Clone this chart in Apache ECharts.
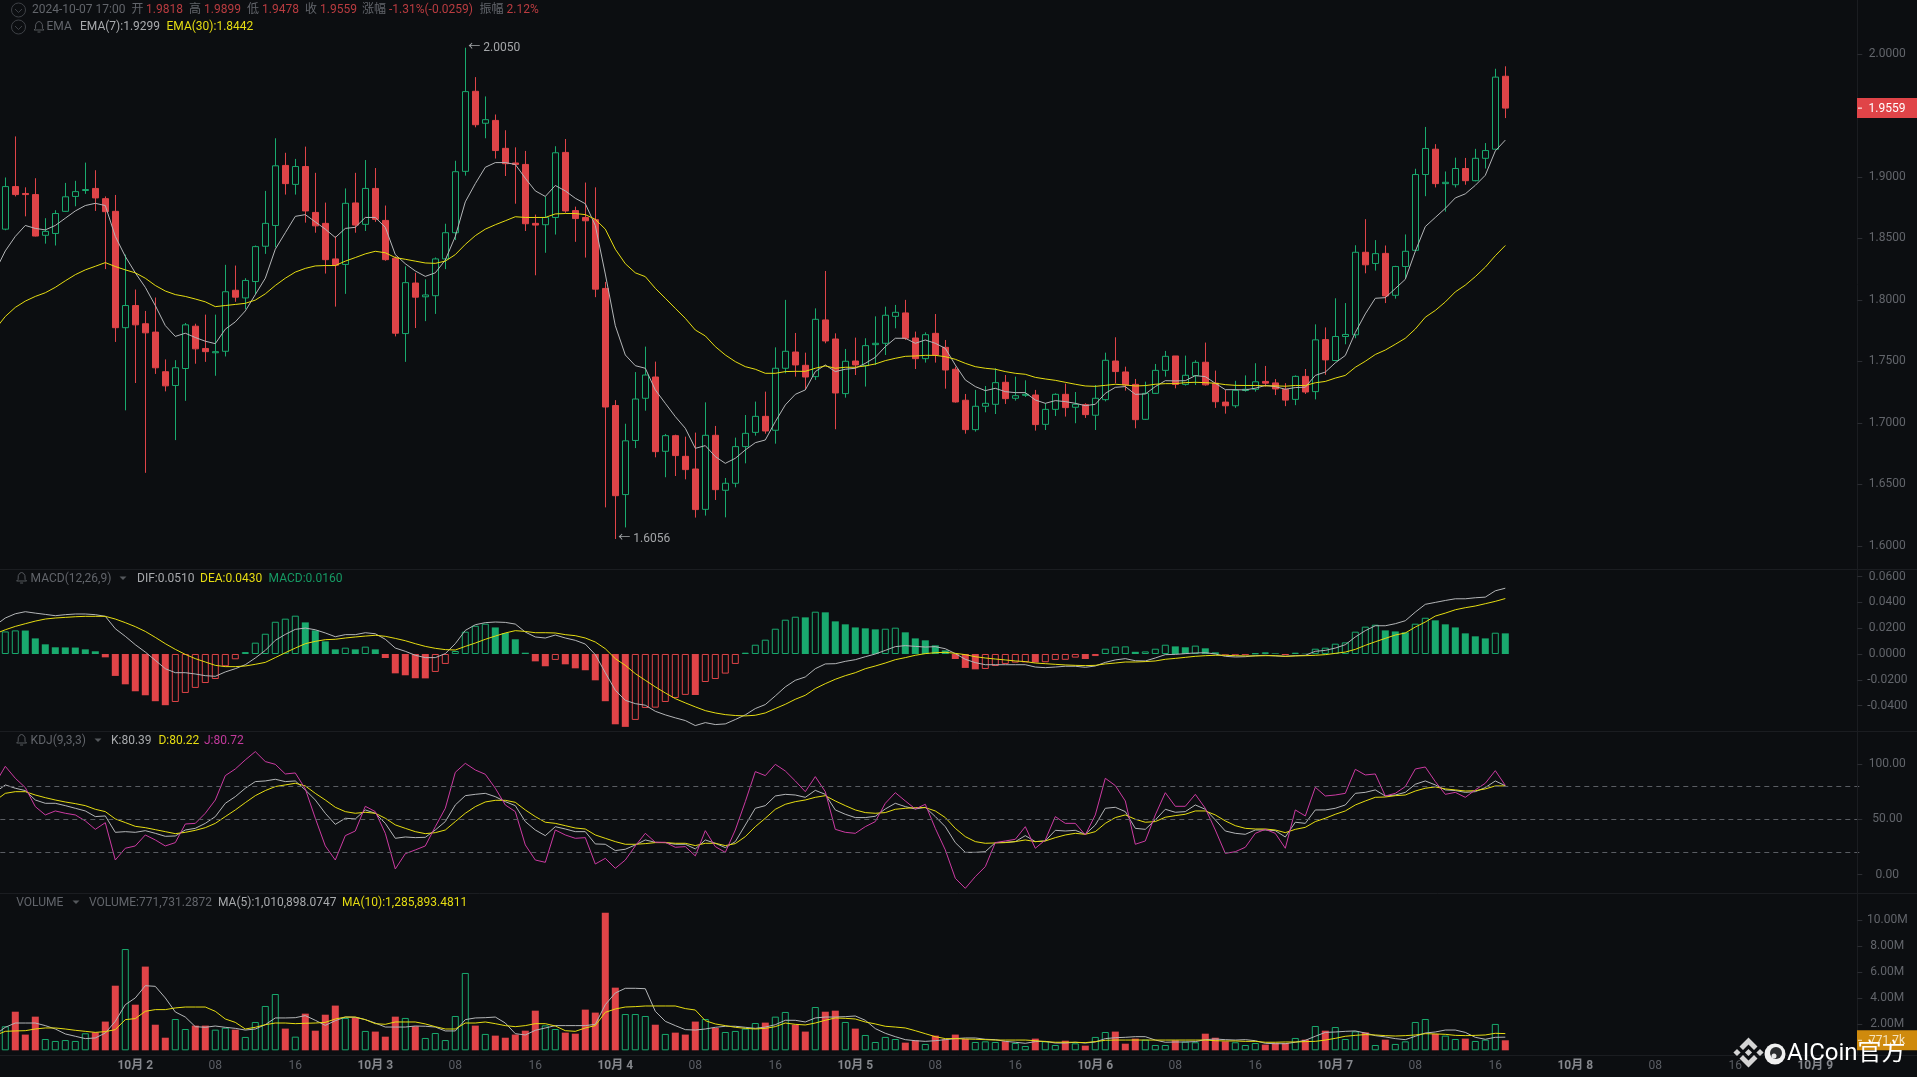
<!DOCTYPE html>
<html>
	<head>
		<meta charset="utf-8">
		<title>chart</title>
		<script src="https://cdn.jsdelivr.net/npm/echarts@6/dist/echarts.min.js"></script>
		<style>
			html,body{margin:0;padding:0;background:#0c0e11;}
			#x{width:1917px;height:1077px;}
		</style>
	</head>
	<body>
		<div id="x"></div>
	</body>

	<script type="text/javascript">
		// open, close, low, high
		var ohlc=[
			[1.8575,1.8921,1.8566,1.8995],[1.8921,1.8856,1.8841,1.9329],[1.8865,1.8856,1.8679,1.8915],[1.8856,1.8519,1.8516,1.8989],[1.8525,1.8557,1.8457,1.8664],
			[1.8540,1.8702,1.8442,1.8729],[1.8720,1.8838,1.8717,1.8951],[1.8841,1.8880,1.8761,1.8968],[1.8889,1.8897,1.8862,1.9116],[1.8906,1.8829,1.8723,1.9054],
			[1.8823,1.8717,1.8250,1.8841],[1.8720,1.7774,1.7658,1.8853],[1.7774,1.7954,1.7102,1.8368],[1.7954,1.7797,1.7324,1.8084],[1.7806,1.7732,1.6594,1.7910],
			[1.7738,1.7448,1.7398,1.8019],[1.7416,1.7301,1.7256,1.7516],[1.7304,1.7448,1.6860,1.7510],[1.7442,1.7797,1.7179,1.7812],[1.7786,1.7602,1.7481,1.7806],
			[1.7605,1.7579,1.7496,1.7880],[1.7570,1.7579,1.7383,1.7880],[1.7582,1.8066,1.7540,1.8285],[1.8078,1.8022,1.7984,1.8279],[1.8016,1.8158,1.7925,1.8176],
			[1.8149,1.8433,1.8043,1.8442],[1.8436,1.8622,1.8374,1.8886],[1.8605,1.9090,1.8427,1.9314],[1.9093,1.8945,1.8856,1.9196],[1.8939,1.9084,1.8856,1.9146],
			[1.9084,1.8723,1.8628,1.9246],[1.8711,1.8602,1.8546,1.9033],[1.8622,1.8327,1.8214,1.8791],[1.8333,1.8282,1.7945,1.8516],[1.8288,1.8785,1.8049,1.8906],
			[1.8788,1.8608,1.8546,1.9033],[1.8614,1.8906,1.8560,1.9137],[1.8906,1.8655,1.8634,1.9072],[1.8646,1.8327,1.8318,1.8767],[1.8339,1.7729,1.7703,1.8353],
			[1.7726,1.8140,1.7496,1.8273],[1.8137,1.8022,1.7771,1.8220],[1.8025,1.8040,1.7827,1.8167],[1.8034,1.8333,1.7886,1.8345],[1.8333,1.8546,1.8250,1.8619],
			[1.8546,1.9042,1.8486,1.9131],[1.9045,1.9693,1.9010,2.0050],[1.9696,1.9424,1.9403,1.9811],[1.9436,1.9465,1.9314,1.9654],[1.9459,1.9214,1.9149,1.9507],
			[1.9232,1.9107,1.9007,1.9379],[1.9113,1.9101,1.8782,1.9240],[1.9101,1.8619,1.8560,1.9211],[1.8622,1.8608,1.8200,1.8693],[1.8611,1.8670,1.8383,1.8841],
			[1.8670,1.9196,1.8531,1.9249],[1.9199,1.8723,1.8708,1.9308],[1.8726,1.8661,1.8472,1.8758],[1.8670,1.8643,1.8344,1.8954],[1.8652,1.8087,1.8022,1.8915],
			[1.8093,1.7129,1.6313,1.8146],[1.7141,1.6408,1.6056,1.7185],[1.6417,1.6854,1.6150,1.6993],[1.6857,1.7194,1.6795,1.7413],[1.7200,1.7389,1.7099,1.7620],
			[1.7373,1.6766,1.6720,1.7498],[1.6769,1.6896,1.6558,1.6910],[1.6896,1.6734,1.6568,1.6904],[1.6728,1.6620,1.6541,1.6888],[1.6625,1.6295,1.6230,1.6921],
			[1.6297,1.6899,1.6246,1.7167],[1.6899,1.6457,1.6373,1.6975],[1.6452,1.6509,1.6232,1.6552],[1.6509,1.6807,1.6476,1.6880],[1.6807,1.6915,1.6671,1.7064],
			[1.6923,1.7053,1.6896,1.7173],[1.7053,1.6934,1.6912,1.7254],[1.6940,1.7444,1.6831,1.7614],[1.7444,1.7582,1.7403,1.8000],[1.7576,1.7471,1.7376,1.7731],
			[1.7468,1.7373,1.7268,1.7571],[1.7376,1.7842,1.7349,1.7931],[1.7837,1.7666,1.7647,1.8235],[1.7682,1.7243,1.6948,1.7728],[1.7238,1.7501,1.7205,1.7601],
			[1.7503,1.7471,1.7389,1.7693],[1.7465,1.7628,1.7295,1.7688],[1.7636,1.7647,1.7471,1.7866],[1.7647,1.7875,1.7552,1.7945],[1.7866,1.7899,1.7769,1.7959],
			[1.7894,1.7688,1.7674,1.8000],[1.7690,1.7522,1.7438,1.7742],[1.7522,1.7717,1.7490,1.7736],[1.7728,1.7552,1.7490,1.7885],[1.7614,1.7430,1.7278,1.7674],
			[1.7436,1.7170,1.7165,1.7457],[1.7184,1.6945,1.6912,1.7235],[1.6945,1.7135,1.6929,1.7268],[1.7135,1.7159,1.7086,1.7300],[1.7151,1.7327,1.7072,1.7444],
			[1.7330,1.7197,1.7154,1.7389],[1.7200,1.7221,1.7181,1.7376],[1.7224,1.7232,1.7211,1.7346],[1.7227,1.6986,1.6937,1.7268],[1.6988,1.7110,1.6942,1.7159],
			[1.7110,1.7232,1.7056,1.7240],[1.7232,1.7124,1.7051,1.7319],[1.7127,1.7151,1.6997,1.7251],[1.7148,1.7067,1.7040,1.7159],[1.7062,1.7200,1.6942,1.7308],
			[1.7189,1.7509,1.7175,1.7571],[1.7503,1.7417,1.7322,1.7696],[1.7414,1.7308,1.7262,1.7457],[1.7313,1.7026,1.6956,1.7357],[1.7029,1.7240,1.7024,1.7335],
			[1.7240,1.7427,1.7235,1.7479],[1.7427,1.7541,1.7376,1.7585],[1.7544,1.7313,1.7281,1.7544],[1.7313,1.7387,1.7303,1.7547],[1.7384,1.7492,1.7308,1.7509],
			[1.7493,1.7309,1.7303,1.7653],[1.7323,1.7172,1.7122,1.7425],[1.7169,1.7139,1.7075,1.7267],[1.7139,1.7265,1.7122,1.7342],[1.7263,1.7273,1.7254,1.7386],
			[1.7273,1.7334,1.7254,1.7485],[1.7337,1.7323,1.7295,1.7463],[1.7325,1.7276,1.7226,1.7356],[1.7273,1.7185,1.7136,1.7323],[1.7191,1.7378,1.7144,1.7386],
			[1.7378,1.7251,1.7235,1.7438],[1.7254,1.7675,1.7191,1.7801],[1.7677,1.7512,1.7391,1.7776],[1.7507,1.7702,1.7501,1.8013],[1.7702,1.7719,1.7639,1.7974],
			[1.7716,1.8387,1.7688,1.8444],[1.8387,1.8285,1.8216,1.8656],[1.8296,1.8376,1.8238,1.8486],[1.8378,1.8032,1.7974,1.8442],[1.8037,1.8271,1.8010,1.8277],
			[1.8271,1.8395,1.8175,1.8532],[1.8403,1.9019,1.8395,1.9066],[1.9019,1.9231,1.8843,1.9406],[1.9225,1.8945,1.8914,1.9266],[1.8945,1.8956,1.8717,1.9044],
			[1.8936,1.9068,1.8914,1.9156],[1.9068,1.8969,1.8936,1.9154],[1.8969,1.9151,1.8964,1.9228],[1.9151,1.9214,1.9068,1.9275],[1.9225,1.9811,1.9220,1.9879],
			[1.9818,1.9559,1.9478,1.9899]
		];
		// every line series starts one hour before the first candle, just off the left edge
		var ema7=[
			1.8235,
			1.8398,1.8516,1.8605,1.8581,1.8569,1.8605,1.8664,1.8723,1.8767,1.8785,
			1.8767,1.8516,1.8353,1.8220,1.8102,1.7954,1.7791,1.7703,1.7729,1.7694,
			1.7664,1.7644,1.7762,1.7821,1.7910,1.8043,1.8176,1.8412,1.8546,1.8679,
			1.8693,1.8634,1.8575,1.8507,1.8581,1.8590,1.8670,1.8670,1.8590,1.8368,
			1.8294,1.8235,1.8191,1.8220,1.8324,1.8516,1.8797,1.8945,1.9078,1.9116,
			1.9116,1.9101,1.8989,1.8886,1.8841,1.8930,1.8886,1.8826,1.8782,1.8605,
			1.8210,1.7790,1.7552,1.7465,1.7444,1.7268,1.7159,1.7051,1.6956,1.6793,
			1.6815,1.6726,1.6671,1.6712,1.6780,1.6839,1.6861,1.7010,1.7146,1.7232,
			1.7268,1.7417,1.7471,1.7417,1.7436,1.7444,1.7484,1.7533,1.7620,1.7688,
			1.7688,1.7647,1.7674,1.7647,1.7606,1.7471,1.7349,1.7295,1.7262,1.7281,
			1.7254,1.7246,1.7246,1.7186,1.7159,1.7181,1.7173,1.7159,1.7140,1.7151,
			1.7240,1.7289,1.7295,1.7232,1.7235,1.7295,1.7343,1.7341,1.7343,1.7384,
			1.7376,1.7322,1.7270,1.7270,1.7268,1.7282,1.7304,1.7295,1.7273,1.7287,
			1.7290,1.7386,1.7413,1.7488,1.7548,1.7735,1.7886,1.8013,1.8018,1.8092,
			1.8167,1.8395,1.8596,1.8670,1.8744,1.8829,1.8862,1.8931,1.9013,1.9211,
			1.9299
		];
		var ema30=[
			1.7762,
			1.7865,1.7939,1.7990,1.8028,1.8058,1.8102,1.8155,1.8205,1.8244,1.8273,
			1.8303,1.8271,1.8244,1.8220,1.8176,1.8117,1.8072,1.8043,1.8028,1.8007,
			1.7984,1.7945,1.7954,1.7963,1.7972,1.7998,1.8049,1.8117,1.8176,1.8226,
			1.8256,1.8276,1.8279,1.8279,1.8315,1.8344,1.8374,1.8395,1.8383,1.8344,
			1.8330,1.8315,1.8300,1.8297,1.8315,1.8368,1.8451,1.8522,1.8575,1.8611,
			1.8643,1.8676,1.8670,1.8670,1.8670,1.8699,1.8702,1.8702,1.8693,1.8655,
			1.8575,1.8412,1.8294,1.8220,
			1.8189,1.8094,1.8013,1.7931,1.7850,1.7755,1.7707,1.7620,1.7552,1.7498,
			1.7457,1.7436,1.7403,1.7403,1.7417,1.7419,1.7419,1.7444,1.7463,1.7444,
			1.7452,1.7452,1.7463,1.7479,1.7506,1.7525,1.7541,1.7544,1.7549,1.7549,
			1.7538,1.7517,1.7484,1.7457,1.7444,1.7436,1.7417,1.7403,1.7395,1.7370,
			1.7357,1.7346,1.7330,1.7314,1.7300,1.7297,1.7305,1.7314,1.7308,1.7300,
			1.7303,1.7314,1.7319,1.7319,1.7327,1.7330,1.7327,1.7322,1.7311,1.7305,
			1.7304,1.7304,1.7301,1.7301,1.7298,1.7304,1.7304,1.7326,1.7337,1.7364,
			1.7386,1.7452,1.7501,1.7556,1.7592,1.7639,1.7688,1.7763,1.7859,1.7914,
			1.7983,1.8065,1.8120,1.8189,1.8266,1.8359,1.8442
		];

		var macdHist=[
			.0175,.0183,.0182,.0121,.0075,.0052,.0051,.0050,.0036,.0021,
			-.0026,-.0170,-.0235,-.0289,-.0320,-.0366,-.0397,-.0372,-.0302,-.0263,
			-.0225,-.0194,-.0095,-.0041,.0015,.0088,.0157,.0250,.0274,.0297,
			.0245,.0183,.0098,.0036,.0049,.0036,.0057,.0036,-.0031,-.0150,
			-.0165,-.0188,-.0189,-.0139,-.0077,.0023,.0173,.0219,.0235,.0206,
			.0163,.0114,.0010,-.0057,-.0095,-.0046,-.0080,-.0111,-.0126,-.0204,
			-.0366,-.0545,-.0565,-.0511,
			-.0418,-.0416,-.0372,-.0341,-.0317,-.0318,-.0217,-.0194,-.0152,-.0077,
			.0010,.0072,.0111,.0196,.0266,.0289,.0284,.0328,.0323,.0253,
			.0230,.0206,.0199,.0191,.0196,.0204,.0168,.0121,.0106,.0067,
			.0028,-.0039,-.0108,-.0119,-.0116,-.0093,-.0077,-.0067,-.0065,-.0066,
			-.0064,-.0046,-.0045,-.0028,-.0039,-.0016,.0041,.0057,.0059,.0017,
			.0020,.0041,.0072,.0059,.0052,.0065,.0044,.0013,-.0005,-.0006,
			-.0007,.0005,
			.0013,.0005,-.0008,.0010,.0003,.0041,.0049,.0080,.0090,.0173,
			.0212,.0227,.0183,.0175,.0168,.0235,.0281,.0261,.0230,.0206,
			.0160,.0137,.0121,.0165,.0160
		];
		var macdDif=[
			.0222,
			.0279,.0312,.0328,.0317,.0307,.0297,.0305,.0310,.0310,.0305,
			.0292,.0196,.0137,.0072,.0015,-.0049,-.0114,-.0145,-.0145,-.0155,
			-.0168,-.0173,-.0139,-.0114,-.0083,-.0031,.0028,.0106,.0152,.0191,
			.0201,.0188,.0163,.0134,.0150,.0150,.0165,.0157,.0114,.0046,
			.0021,-.0010,-.0028,-.0028,.0003,.0080,.0183,.0227,.0243,.0248,
			.0245,.0232,.0170,.0132,.0124,.0147,.0124,.0106,.0077,-.0005,
			-.0145,-.0281,-.0359,-.0385,
			-.0397,-.0444,-.0472,-.0495,-.0516,-.0555,-.0532,-.0547,-.0542,-.0508,
			-.0472,-.0423,-.0392,-.0325,-.0255,-.0204,-.0178,-.0114,-.0077,-.0075,
			-.0057,-.0044,-.0021,0,.0028,.0057,.0065,.0059,.0054,.0057,
			.0041,.0003,-.0041,-.0067,-.0083,-.0083,-.0083,-.0083,-.0083,-.0101,
			-.0106,-.0101,-.0095,-.0095,-.0103,-.0093,-.0065,-.0046,-.0036,-.0052,
			-.0054,-.0031,-.0005,-.0003,.0003,.0008,.0010,0,-.0018,-.0023,
			-.0021,-.0013,
			-.0010,-.0015,-.0018,-.0013,-.0010,.0021,.0028,.0046,.0072,.0132,
			.0181,.0219,.0219,.0235,.0258,.0325,.0385,.0400,.0415,.0428,
			.0428,.0436,.0441,.0490,.0510
		];
		var macdDea=[
			.0157,
			.0188,.0214,.0235,.0255,.0271,.0279,.0284,.0289,.0292,.0292,
			.0292,.0271,.0243,.0212,.0175,.0129,.0080,.0036,-.0003,-.0036,
			-.0062,-.0088,-.0098,-.0098,-.0093,-.0080,-.0065,-.0028,.0010,.0046,
			.0080,.0098,.0111,.0114,.0124,.0132,.0139,.0145,.0137,.0121,
			.0103,.0080,.0059,.0044,.0034,.0031,.0059,.0085,.0114,.0139,
			.0163,.0181,.0175,.0165,.0165,.0163,.0150,.0142,.0124,.0093,
			.0041,-.0036,-.0088,-.0152,
			-.0204,-.0255,-.0302,-.0346,-.0379,-.0410,-.0439,-.0457,-.0470,-.0477,
			-.0480,-.0475,-.0457,-.0423,-.0390,-.0351,-.0320,-.0268,-.0230,-.0196,
			-.0168,-.0145,-.0114,-.0093,-.0070,-.0044,-.0028,-.0010,.0003,.0010,
			.0013,.0005,-.0005,-.0021,-.0031,-.0039,-.0046,-.0054,-.0059,-.0070,
			-.0075,-.0080,-.0085,-.0088,-.0090,-.0088,-.0077,-.0070,-.0062,-.0062,
			-.0059,-.0054,-.0041,-.0034,-.0026,-.0018,-.0013,-.0010,-.0010,-.0013,
			-.0015,-.0015,
			-.0013,-.0013,-.0018,-.0015,-.0013,-.0010,-.0005,.0005,.0015,.0036,
			.0067,.0095,.0121,.0147,.0163,.0209,.0248,.0294,.0317,.0343,
			.0359,.0372,.0390,.0408,.0430
		];

		var kdjK=[
			74.4,
			81.1,78.1,76.0,67.5,64.5,64.5,62.4,60.0,57.6,52.5,
			53.1,38.3,38.9,38.3,39.8,37.4,34.7,35.0,40.4,41.9,
			46.4,52.5,64.5,70.5,78.1,84.1,84.7,86.2,84.1,84.7,
			76.6,67.5,55.5,45.5,51.0,50.4,58.5,55.5,46.4,32.9,
			34.1,33.5,33.8,40.4,48.0,63.0,71.4,72.6,73.5,70.5,
			66.0,62.4,48.0,40.4,35.3,43.4,41.3,38.9,38.9,27.8,
			27.5,21.8,23.0,26.9,
			31.4,29.3,29.0,27.5,27.5,23.3,31.4,28.4,24.5,29.9,
			44.9,60.0,62.4,71.1,72.6,72.0,69.9,76.2,72.6,58.5,
			54.6,51.6,51.6,52.8,59.4,64.5,61.5,59.4,60.9,52.5,
			43.4,29.0,20.2,20.2,20.8,29.0,29.3,29.9,35.3,29.9,
			30.5,40.1,39.5,40.1,36.5,44.9,60.0,60.9,57.0,41.9,
			41.0,49.5,59.1,56.4,57.0,63.0,59.1,49.5,39.5,37.4,
			36.5,40.4,
			40.4,39.8,34.1,47.4,46.4,58.5,58.5,60.0,63.0,73.5,
			74.4,76.6,71.1,72.0,74.4,81.7,84.7,81.1,76.6,76.0,
			74.4,75.0,78.7,84.7,80.39
		];
		var kdjD=[
			66.9,
			73.5,75.0,75.0,72.0,69.6,67.5,65.7,64.2,62.4,59.1,
			57.0,50.4,47.1,43.7,42.5,40.7,38.9,37.1,38.3,40.1,
			42.5,46.4,52.5,58.5,65.1,71.4,76.0,79.6,81.1,82.6,
			80.2,73.5,67.5,60.9,57.0,55.5,56.4,55.5,51.0,45.0,
			41.9,38.9,37.1,38.0,40.4,48.0,55.5,61.5,65.7,67.2,
			67.2,65.4,58.5,52.5,47.4,46.4,44.3,42.2,41.3,35.9,
			32.9,29.9,27.5,27.5,
			28.1,29.0,29.0,28.4,28.4,26.3,28.4,28.4,26.3,28.1,
			34.4,43.4,51.0,59.1,63.6,66.0,67.5,69.9,71.4,66.6,
			62.4,58.5,56.1,55.5,56.1,59.1,60.0,60.6,60.6,57.6,
			51.6,41.9,34.4,29.9,28.4,28.7,29.0,29.9,31.4,29.9,
			30.5,33.5,35.9,37.4,36.5,38.9,46.4,51.6,54.0,50.1,
			47.4,48.0,51.9,53.4,54.6,57.6,57.6,54.0,48.6,44.3,
			41.9,41.3,
			41.3,40.4,38.0,41.0,42.8,48.0,51.0,54.6,57.6,63.0,
			66.6,69.9,70.2,71.4,72.0,75.6,78.1,79.3,77.5,76.6,
			75.6,75.9,77.5,80.2,80.22
		];
		var kdjJ=[
			82.6,
			97.9,87.1,78.7,61.5,54.0,57.6,55.5,54.0,48.6,41.0,
			47.0,13.3,23.9,26.0,35.9,31.4,26.0,29.0,45.8,46.4,
			55.5,67.5,89.5,95.5,103.7,111.2,102.2,99.7,91.0,91.9,
			77.5,51.0,26.0,13.3,35.3,39.5,61.8,57.0,37.4,5.2,
			19.0,22.4,26.0,43.4,60.0,92.5,100.6,94.6,90.7,78.1,
			63.0,57.0,26.9,13.3,11.2,40.4,35.9,32.9,33.5,9.7,
			14.8,5.8,13.3,26.0,
			37.4,29.3,29.3,24.8,25.4,17.0,39.8,25.4,20.2,40.4,
			66.0,93.1,89.5,99.7,93.7,84.7,75.0,88.6,75.0,41.0,
			38.3,37.4,43.4,48.0,64.5,74.1,66.6,59.4,63.6,41.9,
			22.4,-3.2,-12.3,-1.7,7.3,29.0,30.5,32.0,43.4,23.9,
			31.4,52.5,46.4,46.4,35.9,54.0,87.1,80.5,66.6,27.5,
			30.5,54.0,74.1,61.8,61.8,72.6,60.0,40.4,19.3,20.8,
			24.8,37.4,
			41.0,37.4,23.9,58.5,53.1,79.0,71.1,72.0,73.5,95.2,
			90.1,91.0,71.1,73.5,79.6,95.5,97.3,84.1,72.6,74.4,
			69.9,76.6,82.6,94.0,80.72
		];
		var kdjLevels=[80,50,20];

		// volume in millions
		var volume=[
			1.85,2.97,1.21,2.59,.87,.72,.79,.72,1.31,1.38,
			2.21,4.97,7.79,3.51,6.44,1.97,.97,2.41,1.64,1.90,
			1.90,1.59,1.74,1.59,1.03,2.18,3.41,4.33,1.67,1.05,
			2.82,1.51,2.74,3.44,2.49,2.49,1.49,1.44,1.05,2.59,
			2.49,1.85,.95,1.33,.79,2.64,5.95,1.90,1.26,1.13,
			.97,1.21,1.51,3.05,1.92,1.64,1.36,1.28,3.13,2.90,
			10.59,4.82,2.79,2.79,
			2.64,1.97,1.26,1.36,1.21,2.21,2.41,1.72,1.41,1.49,
			1.67,2.10,2.13,2.59,2.95,1.97,1.44,3.33,2.97,3.05,
			2.18,1.67,1.18,.64,1.03,.87,.59,.77,.49,1.13,
			.85,1.21,.87,.64,.69,.64,.69,.56,.33,.90,
			.69,.41,.74,.54,.36,1.03,1.41,1.44,.51,.90,
			.82,.41,.41,.77,.67,.62,1.28,.97,.69,.62,
			.41,.56,
			.44,.56,.56,.95,.82,1.87,1.51,1.79,.87,1.46,
			1.38,.41,.82,.49,.69,2.18,2.41,1.26,1.13,.87,
			.90,.72,.82,2.03,.771731
		];
		var volMa5=[
			1.21,
			1.77,2.10,2.10,2.10,1.90,1.64,1.26,1.08,.90,.95,
			1.33,2.23,3.51,4.03,4.97,4.92,4.03,2.95,2.56,1.82,
			1.77,1.87,1.77,1.69,1.56,1.64,1.97,2.49,2.49,2.51,
			2.67,2.31,1.92,2.28,2.56,2.54,2.36,2.10,1.79,1.79,
			1.79,1.87,1.85,1.79,1.49,1.49,2.36,2.49,2.51,2.56,
			2.10,1.28,1.18,1.54,1.72,1.90,1.90,1.90,1.90,2.00,
			3.51,4.41,4.77,4.77,
			4.74,3.00,2.23,1.90,1.59,1.56,1.64,1.77,1.85,1.85,
			1.77,1.69,1.79,1.97,2.31,2.31,2.18,2.49,2.56,2.56,
			2.59,2.64,2.31,1.67,1.31,1.05,.82,.74,.69,.74,
			.82,.90,.95,.95,.85,.82,.69,.62,.54,.67,
			.69,.56,.56,.62,.56,.64,.90,.97,1.00,1.05,
			1.05,.79,.62,.64,.64,.67,.82,.87,.82,.79,
			.82,.74,
			.54,.51,.51,.62,.77,1.08,1.38,1.41,1.46,1.49,
			1.33,1.13,1.03,.90,.82,1.08,1.33,1.41,1.56,1.56,
			1.38,1.00,.85,1.00,1.0109
		];
		var volMa10=[
			1.15,
			1.46,1.49,1.51,1.64,1.72,1.72,1.64,1.54,1.46,1.38,
			1.44,1.59,2.36,2.44,3.00,3.13,3.13,3.26,3.33,3.33,
			3.33,3.00,2.41,2.15,1.64,1.77,1.97,2.10,2.10,2.05,
			2.08,2.10,2.15,2.41,2.56,2.56,2.36,2.05,2.00,2.18,
			2.18,2.18,2.03,1.82,1.64,1.64,2.10,2.10,2.18,2.05,
			1.90,1.82,1.90,2.05,2.05,1.87,1.51,1.46,1.72,1.90,
			2.92,3.18,3.33,3.36,
			3.41,3.41,3.41,3.41,3.21,3.10,2.28,2.03,1.90,1.77,
			1.69,1.64,1.69,1.82,2.10,2.00,1.95,2.10,2.31,2.49,
			2.46,2.41,2.18,2.03,1.85,1.79,1.72,1.51,1.28,1.05,
			.90,.90,.87,.85,.82,.79,.79,.79,.79,.74,
			.67,.62,.62,.62,.59,.67,.77,.79,.79,.79,
			.79,.79,.79,.79,.79,.79,.79,.74,.72,.72,
			.69,.69,
			.62,.62,.64,.64,.67,.69,.79,.92,1.08,1.15,
			1.21,1.18,1.13,1.10,1.13,1.18,1.28,1.26,1.23,1.15,
			1.13,1.15,1.18,1.31,1.286
		];

		var priceTicks=[1.6,1.65,1.7,1.75,1.8,1.85,1.9,1.95,2.0];
		var macdTicks=[-.04,-.02,0,.02,.04,.06];
		var kdjTicks=[0,50,100];
		var volTicks=[2,4,6,8,10];
		// keys are slots on the category axis
		var dayLabels={14:'10月 2',38:'10月 3',62:'10月 4',86:'10月 5',110:'10月 6',134:'10月 7',158:'10月 8',182:'10月 9'};

		var headerLine=[
			[32,'2024-10-07 17:00','g'],[131.5,'开','g'],[146,'1.9818','r'],[189,'高','g'],[204,'1.9899','r'],
			[247,'低','g'],[262,'1.9478','r'],[305,'收','g'],[320,'1.9559','r'],[362,'涨幅','g'],
			[389,'-1.31%(-0.0259)','r'],[479.6,'振幅','g'],[506.5,'2.12%','r']
		];
		var emaLegend=[[46.5,'EMA','g'],[80,'EMA(7):1.9299','w'],[166.5,'EMA(30):1.8442','y']];
		var macdLegend=[[30.6,'MACD(12,26,9)','g'],[137,'DIF:0.0510','w'],[200,'DEA:0.0430','y'],[268.6,'MACD:0.0160','c']];
		var kdjLegend=[[30.6,'KDJ(9,3,3)','g'],[111,'K:80.39','w'],[158.4,'D:80.22','y'],[204,'J:80.72','p']];
		var volLegend=[[16.3,'VOLUME','g'],[89,'VOLUME:771,731.2872','g'],[218,'MA(5):1,010,898.0747','w'],[342,'MA(10):1,285,893.4811','y']];

		var BG='#0c0e11',RED='#e04448',GREEN='#19aa6e',WHITE='#b4b6b8',YELLOW='#e6dd12',PINK='#cc3ba2';
		var SEP='#1b1d21',AXIS='#62656b',FONT='Roboto,"Noto Sans CJK SC",sans-serif';
		var textColors={g:'#62656b',r:'#b93c40',w:'#a8aaad',y:'#e6dd12',c:'#169a64',p:'#c23a9c'};

		// one slot per hour, slot 0 sits left of the window, room left for the empty days on the right
		var cats=[];
		for(var i=0;i<187;i++){ cats.push(i) }

		var grids=[
			{left:.3,width:1860,top:0,height:569},
			{left:.3,width:1860,top:569,height:162},
			{left:.3,width:1860,top:731,height:162},
			{left:.3,width:1860,top:893,height:162}
		];

		function xAxis(idx,showLabels){
			return {
				type:'category',gridIndex:idx,data:cats,boundaryGap:true,min:1,max:186,
				axisLine:{show:false,onZero:false},axisTick:{show:false},splitLine:{show:false},
				axisLabel:{
					show:showLabels,hideOverlap:false,margin:5,fontFamily:FONT,
					interval:function(index){
						return index>=14 && (index-14)%8==0;
					},
					formatter:function(v){
						var n=Number(v);
						if(dayLabels[n]){ return '{day|'+dayLabels[n]+'}' }
						return '{hour|'+((n-14)%24==8?'08':'16')+'}';
					},
					rich:{
						day:{color:'#85878c',fontSize:12,fontWeight:'bold',fontFamily:FONT},
						hour:{color:'#5b5e64',fontSize:12,fontFamily:FONT}
					}
				}
			};
		}
		function yAxis(idx,min,max,ticks,fmt){
			return {
				type:'value',gridIndex:idx,position:'right',offset:-3,min:min,max:max,z:5,
				axisLine:{show:true,onZero:false,lineStyle:{color:SEP}},
				axisTick:{show:true,length:5,customValues:ticks,lineStyle:{color:'#2b2d32'}},
				splitLine:{show:false},
				axisLabel:{color:AXIS,fontSize:12,fontFamily:FONT,align:'center',margin:30,padding:[3,0,0,0],customValues:ticks,formatter:fmt,showMinLabel:true,showMaxLabel:true}
			};
		}
		function line(name,data,idx,color,extra){
			var s={name:name,type:'line',data:data,xAxisIndex:idx,yAxisIndex:idx,showSymbol:false,silent:true,
				lineStyle:{width:1,color:color},itemStyle:{color:color},z:3};
			if(extra){ for(var k in extra){ s[k]=extra[k] } }
			return s;
		}

		var macdBars=['-'].concat(macdHist.map(function(v,i){
			var color=v>=0?GREEN:RED;
			var hollow=i==0||v>macdHist[i-1];
			return {value:v,itemStyle:{color:hollow?'rgba(0,0,0,0)':color,borderColor:color,borderWidth:hollow?1:0}};
		}));
		var volBars=['-'].concat(volume.map(function(v,i){
			var up=ohlc[i][1]>=ohlc[i][0];
			return {value:v,itemStyle:{color:up?'rgba(0,0,0,0)':RED,borderColor:up?GREEN:RED,borderWidth:up?1:0}};
		}));

		var extreme={color:'#a4a6a9',fontSize:12,fontFamily:FONT,position:'right',distance:3,padding:[2,0,0,0],formatter:'{b}'};

		var option={
			backgroundColor:BG,
			animation:false,
			grid:grids,
			xAxis:[xAxis(0,false),xAxis(1,false),xAxis(2,false),xAxis(3,true)],
			yAxis:[
				yAxis(0,1.5812,2.0438,priceTicks,function(v){return v.toFixed(4)}),
				yAxis(1,-.0597,.0659,macdTicks,function(v){return v.toFixed(4)}),
				yAxis(2,-16.5,129.8,kdjTicks,function(v){return v.toFixed(2)}),
				yAxis(3,-.36,12.1,volTicks,function(v){return v.toFixed(2)+'M'})
			],
			series:[
				{
					name:'K',type:'candlestick',data:[['-','-','-','-']].concat(ohlc),xAxisIndex:0,yAxisIndex:0,barWidth:7,silent:true,z:2,
					itemStyle:{color:'rgba(0,0,0,0)',color0:RED,borderColor:GREEN,borderColor0:RED,borderWidth:1},
					markPoint:{
						silent:true,symbol:'circle',symbolSize:0,animation:false,
						data:[
							{name:'← 2.0050',coord:[47,2.005],label:extreme},
							{name:'← 1.6056',coord:[62,1.6056],label:extreme}
						]
					}
				},
				line('EMA7',ema7,0,WHITE),
				line('EMA30',ema30,0,YELLOW),
				{name:'MACD',type:'bar',data:macdBars,xAxisIndex:1,yAxisIndex:1,barWidth:7,silent:true,z:2},
				line('DIF',macdDif,1,WHITE),
				line('DEA',macdDea,1,YELLOW),
				line('K',kdjK,2,WHITE,{
					markLine:{
						silent:true,symbol:'none',animation:false,label:{show:false},
						lineStyle:{color:'#5a5d63',type:[5,4],width:1},
						data:kdjLevels.map(function(v){return {yAxis:v}})
					}
				}),
				line('D',kdjD,2,YELLOW),
				line('J',kdjJ,2,PINK),
				{name:'VOL',type:'bar',data:volBars,xAxisIndex:3,yAxisIndex:3,barWidth:7,silent:true,z:2},
				line('MA5',volMa5,3,WHITE),
				line('MA10',volMa10,3,YELLOW)
			]
		};

		var chart=echarts.init(document.getElementById('x'));
		chart.setOption(option);

		function txt(x,y,str,color,size,weight){
			return {type:'text',x:x,y:y,z:20,silent:true,style:{text:str,fill:color,fontSize:size||12,fontWeight:weight||'normal',fontFamily:FONT,verticalAlign:'middle',align:'left'}};
		}
		function legendRow(list,y){
			return list.map(function(t){ return txt(t[0],y,t[1],textColors[t[2]]) });
		}
		function chevronCircle(cx,cy){
			return [
				{type:'circle',z:20,silent:true,shape:{cx:cx,cy:cy,r:7},style:{fill:'none',stroke:'#3e4146',lineWidth:1}},
				{type:'polyline',z:20,silent:true,shape:{points:[[cx-3.5,cy-1],[cx,cy+2.5],[cx+3.5,cy-1]]},style:{fill:'none',stroke:'#3e4146',lineWidth:1}}
			];
		}
		function bell(cx,cy){
			var pts=[[-5,3],[-3.5,1.5],[-3.3,-2.5],[-1.8,-4.8],[0,-5.5],[1.8,-4.8],[3.3,-2.5],[3.5,1.5],[5,3],[-5,3]];
			return [
				{type:'polyline',z:20,silent:true,shape:{points:pts.map(function(p){return [cx+p[0],cy+p[1]]})},style:{fill:'none',stroke:'#55585d',lineWidth:1}},
				{type:'line',z:20,silent:true,shape:{x1:cx-1.5,y1:cy+5,x2:cx+1.5,y2:cy+5},style:{stroke:'#55585d',lineWidth:1}}
			];
		}
		function caret(cx,cy){
			return {type:'polygon',z:20,silent:true,shape:{points:[[cx-3.5,cy-1.5],[cx+3.5,cy-1.5],[cx,cy+2]]},style:{fill:'#55585d'}};
		}
		function priceTag(axisIdx,value,label,y0,color,textColor){
			var y=chart.convertToPixel({yAxisIndex:axisIdx},value);
			return [
				{type:'rect',z:21,silent:true,shape:{x:1857,y:y0,width:60,height:20},style:{fill:color}},
				{type:'line',z:22,silent:true,shape:{x1:1858,y1:y,x2:1862,y2:y},style:{stroke:textColor,lineWidth:1}},
				{type:'text',x:1887,y:y0+10.5,z:22,silent:true,style:{text:label,fill:textColor,fontSize:12,fontFamily:FONT,align:'center',verticalAlign:'middle'}}
			];
		}
		function logoPart(cx,cy,pts){
			return {type:'polygon',z:30,silent:true,shape:{points:pts.map(function(p){return [cx+p[0],cy+p[1]]})},style:{fill:'#d4d4d4'}};
		}
		function diamondPts(dx,dy,r){
			return [[dx,dy-r],[dx+r,dy],[dx,dy+r],[dx-r,dy]];
		}

		var last=ohlc[ohlc.length-1][1];
		var priceY=chart.convertToPixel({yAxisIndex:0},last);
		var volY=chart.convertToPixel({yAxisIndex:3},volume[volume.length-1]);

		var gfx=[];
		// panel separators
		[569,731,893,1055].forEach(function(y){
			gfx.push({type:'line',z:1,silent:true,shape:{x1:0,y1:y+.5,x2:1917,y2:y+.5},style:{stroke:SEP,lineWidth:1}});
		});
		gfx=gfx.concat(legendRow(headerLine,9.5),legendRow(emaLegend,27),legendRow(macdLegend,578.5),legendRow(kdjLegend,740.5),legendRow(volLegend,902.5));
		gfx=gfx.concat(chevronCircle(18.5,10),chevronCircle(18.5,27),bell(39,27),bell(21.6,578),bell(21.6,740));
		gfx.push(caret(123,578),caret(98,740),caret(76,902));
		gfx=gfx.concat(priceTag(0,last,'1.9559',priceY-10,RED,'#ffffff'));
		gfx=gfx.concat(priceTag(3,volume[volume.length-1],'771.7k',volY-10,'#cf8a0d','#f4e3bf'));
		// watermark
		var lx=1748.5,ly=1052.5;
		gfx.push(
			logoPart(lx,ly,[[0,-15],[9,-6],[5.5,-2.5],[0,-8],[-5.5,-2.5],[-9,-6]]),
			logoPart(lx,ly,[[0,15],[9,6],[5.5,2.5],[0,8],[-5.5,2.5],[-9,6]]),
			logoPart(lx,ly,diamondPts(-11.5,0,3.6)),
			logoPart(lx,ly,diamondPts(11.5,0,3.6)),
			logoPart(lx,ly,diamondPts(0,0,3.6))
		);
		gfx.push({type:'circle',z:30,silent:true,shape:{cx:1775,cy:1054,r:10.5},style:{fill:'#f0f0f0'}});
		gfx.push({type:'circle',z:30,silent:true,shape:{cx:1776,cy:1053,r:6},style:{fill:'#2a2c2e'}});
		gfx.push({type:'circle',z:30,silent:true,shape:{cx:1774,cy:1056,r:2.5},style:{fill:'#e8e8e8'}});
		var mark=txt(1787,1053.5,'AICoin官方','#ffffff',24);
		mark.z=31;
		gfx.push(mark);

		chart.setOption({graphic:{elements:gfx}});
	</script>
</html>
